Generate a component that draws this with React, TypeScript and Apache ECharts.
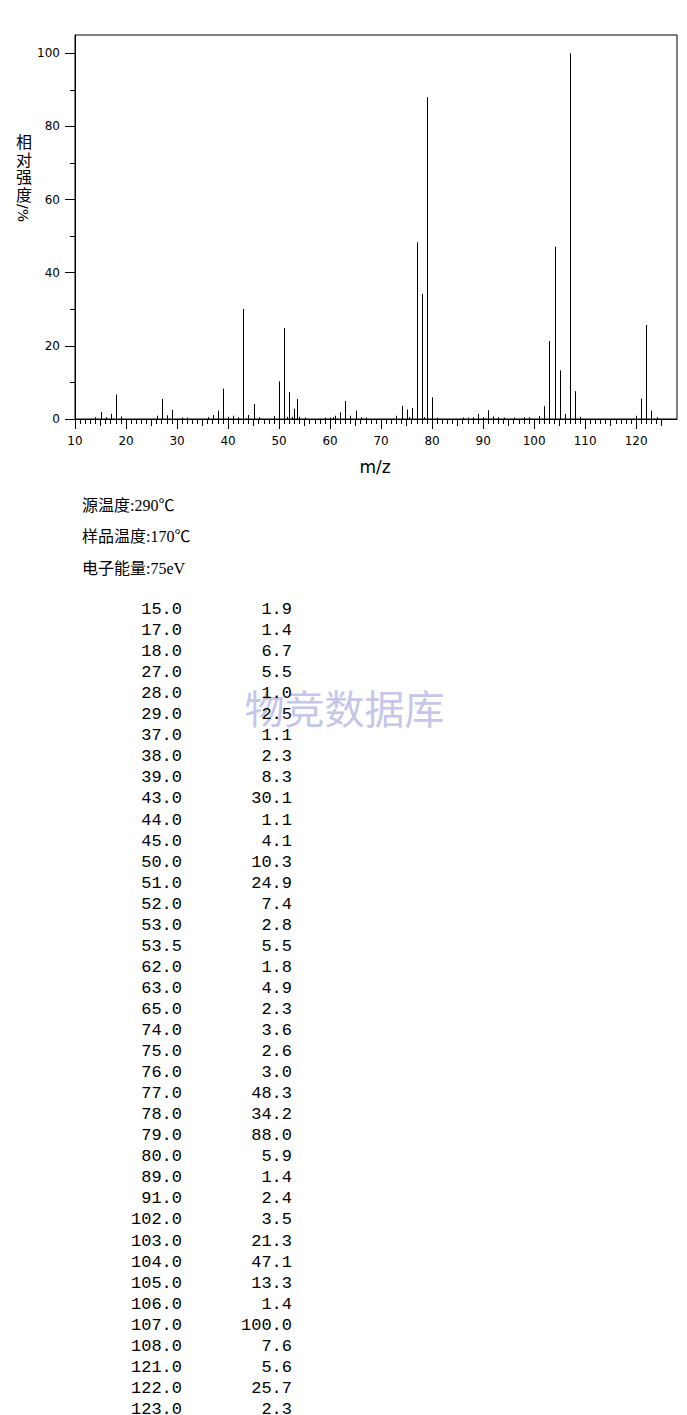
import React, { useEffect, useRef } from "react";
import * as echarts from "echarts";

// Listed peaks (m/z, relative intensity %)
const listedMz = [15, 17, 18, 27, 28, 29, 37, 38, 39, 43, 44, 45, 50, 51, 52, 53, 53.5, 62, 63, 65, 74, 75, 76, 77, 78, 79, 80, 89, 91, 102, 103, 104, 105, 106, 107, 108, 121, 122, 123];
const listedInt = [1.9, 1.4, 6.7, 5.5, 1.0, 2.5, 1.1, 2.3, 8.3, 30.1, 1.1, 4.1, 10.3, 24.9, 7.4, 2.8, 5.5, 1.8, 4.9, 2.3, 3.6, 2.6, 3.0, 48.3, 34.2, 88.0, 5.9, 1.4, 2.4, 3.5, 21.3, 47.1, 13.3, 1.4, 100.0, 7.6, 5.6, 25.7, 2.3];

// Small unlisted peaks (estimated)
const smallMz = [14, 16, 19, 26, 31, 32, 36, 40, 41, 42, 46, 49, 51.5, 52.5, 54, 55, 59, 60, 60.5, 61, 64, 66, 67, 73, 75.5, 78.5, 81, 86, 87, 88, 90, 92, 93, 94, 96, 98, 99, 101, 109, 120, 124];
const smallInt = [0.5, 0.5, 0.7, 0.9, 0.4, 0.4, 0.5, 0.6, 0.9, 0.5, 0.5, 0.8, 0.6, 0.6, 0.6, 0.4, 0.4, 0.4, 0.5, 0.9, 0.9, 0.5, 0.4, 0.9, 0.5, 0.5, 0.4, 0.4, 0.4, 0.5, 0.5, 0.7, 0.5, 0.4, 0.4, 0.5, 0.5, 0.8, 0.6, 0.9, 0.5];

const xMajorTicks = [10, 20, 30, 40, 50, 60, 70, 80, 90, 100, 110, 120];
const xMidTicks = [15, 25, 35, 45, 55, 65, 75, 85, 95, 105, 115, 125];
const xMinorTicks = Array.from({ length: 125 - 10 + 1 }, (_, i) => 10 + i).filter((v) => v % 5 !== 0);
const yMajorTicks = [0, 20, 40, 60, 80, 100];
const yMinorTicks = [10, 30, 50, 70, 90];

const conditions = ["源温度:290℃", "样品温度:170℃", "电子能量:75eV"];
const yTitleChars = ["相", "对", "强", "度"];

const X_MIN = 10;
const X_MAX = 128;
const Y_MIN = 0;
const Y_MAX = 105;

function Chart() {
  const ref = useRef<HTMLDivElement>(null);
  useEffect(() => {
    if (!ref.current) return;
    const chart = echarts.init(ref.current, null, { renderer: "svg" });
    const peaks: number[][] = [];
    listedMz.forEach((m, i) => peaks.push([m, listedInt[i]]));
    smallMz.forEach((m, i) => peaks.push([m, smallInt[i]]));

    const baseX = {
      type: "value",
      min: X_MIN,
      max: X_MAX,
      position: "bottom",
      splitLine: { show: false },
      axisLine: { show: false },
      axisLabel: { show: false },
    };
    const baseY = {
      type: "value",
      min: Y_MIN,
      max: Y_MAX,
      position: "left",
      splitLine: { show: false },
      axisLine: { show: false },
      axisLabel: { show: false },
    };
    const tickStyle = { color: "#000", width: 1 };

    chart.setOption({
      animation: false,
      backgroundColor: "#fff",
      grid: {
        left: 75,
        top: 35,
        width: 602,
        height: 384,
        show: true,
        borderColor: "#000",
        borderWidth: 1,
        backgroundColor: "transparent",
      },
      xAxis: [
        {
          ...baseX,
          axisLine: { show: true, lineStyle: { color: "#000", width: 1 } },
          axisTick: { show: true, length: 10, customValues: xMajorTicks, lineStyle: tickStyle },
          axisLabel: {
            show: true,
            customValues: xMajorTicks,
            color: "#000",
            fontSize: 12,
            fontFamily: "DejaVu Sans",
            margin: 16,
          },
        },
        {
          ...baseX,
          axisTick: { show: true, length: 7, customValues: xMidTicks, lineStyle: tickStyle },
        },
        {
          ...baseX,
          axisTick: { show: true, length: 5, customValues: xMinorTicks, lineStyle: tickStyle },
        },
      ],
      yAxis: [
        {
          ...baseY,
          axisLine: { show: true, lineStyle: { color: "#000", width: 1 } },
          axisTick: { show: true, length: 10, customValues: yMajorTicks, lineStyle: tickStyle },
          axisLabel: {
            show: true,
            customValues: yMajorTicks,
            color: "#000",
            fontSize: 12,
            fontFamily: "DejaVu Sans",
            margin: 15,
          },
        },
        {
          ...baseY,
          axisTick: { show: true, length: 5, customValues: yMinorTicks, lineStyle: tickStyle },
        },
      ],
      graphic: [
        {
          type: "text",
          x: 375,
          y: 467,
          style: {
            text: "m/z",
            font: "17px 'DejaVu Sans'",
            fill: "#000",
            textAlign: "center",
            textVerticalAlign: "middle",
          },
        },
        ...yTitleChars.map((c, i) => ({
          type: "text",
          x: 24,
          y: 141 + i * 17.5,
          style: {
            text: c,
            font: "16px 'Noto Sans CJK SC'",
            fill: "#000",
            textAlign: "center",
            textVerticalAlign: "middle",
          },
        })),
        {
          type: "text",
          x: 23,
          y: 213,
          rotation: -Math.PI / 2,
          style: {
            text: "/%",
            font: "14px 'DejaVu Sans'",
            fill: "#000",
            textAlign: "center",
            textVerticalAlign: "middle",
          },
        },
      ],
      series: [
        {
          type: "custom",
          xAxisIndex: 0,
          yAxisIndex: 0,
          data: peaks,
          encode: { x: 0, y: 1 },
          renderItem: (params: any, api: any) => {
            const base = api.coord([api.value(0), 0]);
            const top = api.coord([api.value(0), api.value(1)]);
            const x = Math.round(base[0]) + 0.5;
            return {
              type: "line",
              shape: { x1: x, y1: base[1], x2: x, y2: top[1] },
              style: { stroke: "#000", lineWidth: 1 },
            };
          },
        },
      ],
    });
    return () => chart.dispose();
  }, []);
  return <div ref={ref} style={{ position: "absolute", left: 0, top: 0, width: 687, height: 485 }} />;
}

export default function App() {
  const rowH = 21.05;
  return (
    <div style={{ position: "absolute", left: 0, top: 0, width: 687, height: 1415, background: "#fff", overflow: "hidden" }}>
      <Chart />
      {conditions.map((t, i) => (
        <div
          key={t}
          style={{
            position: "absolute",
            left: 82,
            top: [506, 537, 569][i] - 10,
            height: 20,
            lineHeight: "20px",
            fontSize: 16,
            fontFamily: "'Liberation Serif', 'Noto Sans CJK SC', serif",
            color: "#000",
            whiteSpace: "nowrap",
          }}
        >
          {t}
        </div>
      ))}
      <div
        style={{
          position: "absolute",
          left: 0,
          width: 689,
          top: 707 - 25,
          height: 50,
          lineHeight: "50px",
          textAlign: "center",
          fontSize: 40,
          fontFamily: "'Noto Sans CJK SC', sans-serif",
          color: "rgb(198,198,234)",
          whiteSpace: "nowrap",
        }}
      >
        物竞数据库
      </div>
      {listedMz.map((m, i) => {
        const cy = 610 + i * rowH;
        const common: React.CSSProperties = {
          position: "absolute",
          left: 0,
          top: cy - 7,
          height: 14,
          lineHeight: "14px",
          fontSize: 17,
          fontFamily: "'Liberation Mono', monospace",
          color: "#000",
          textAlign: "right",
          whiteSpace: "nowrap",
        };
        return (
          <React.Fragment key={m}>
            <div style={{ ...common, width: 182 }}>{m.toFixed(1)}</div>
            <div style={{ ...common, width: 292 }}>{listedInt[i].toFixed(1)}</div>
          </React.Fragment>
        );
      })}
    </div>
  );
}
